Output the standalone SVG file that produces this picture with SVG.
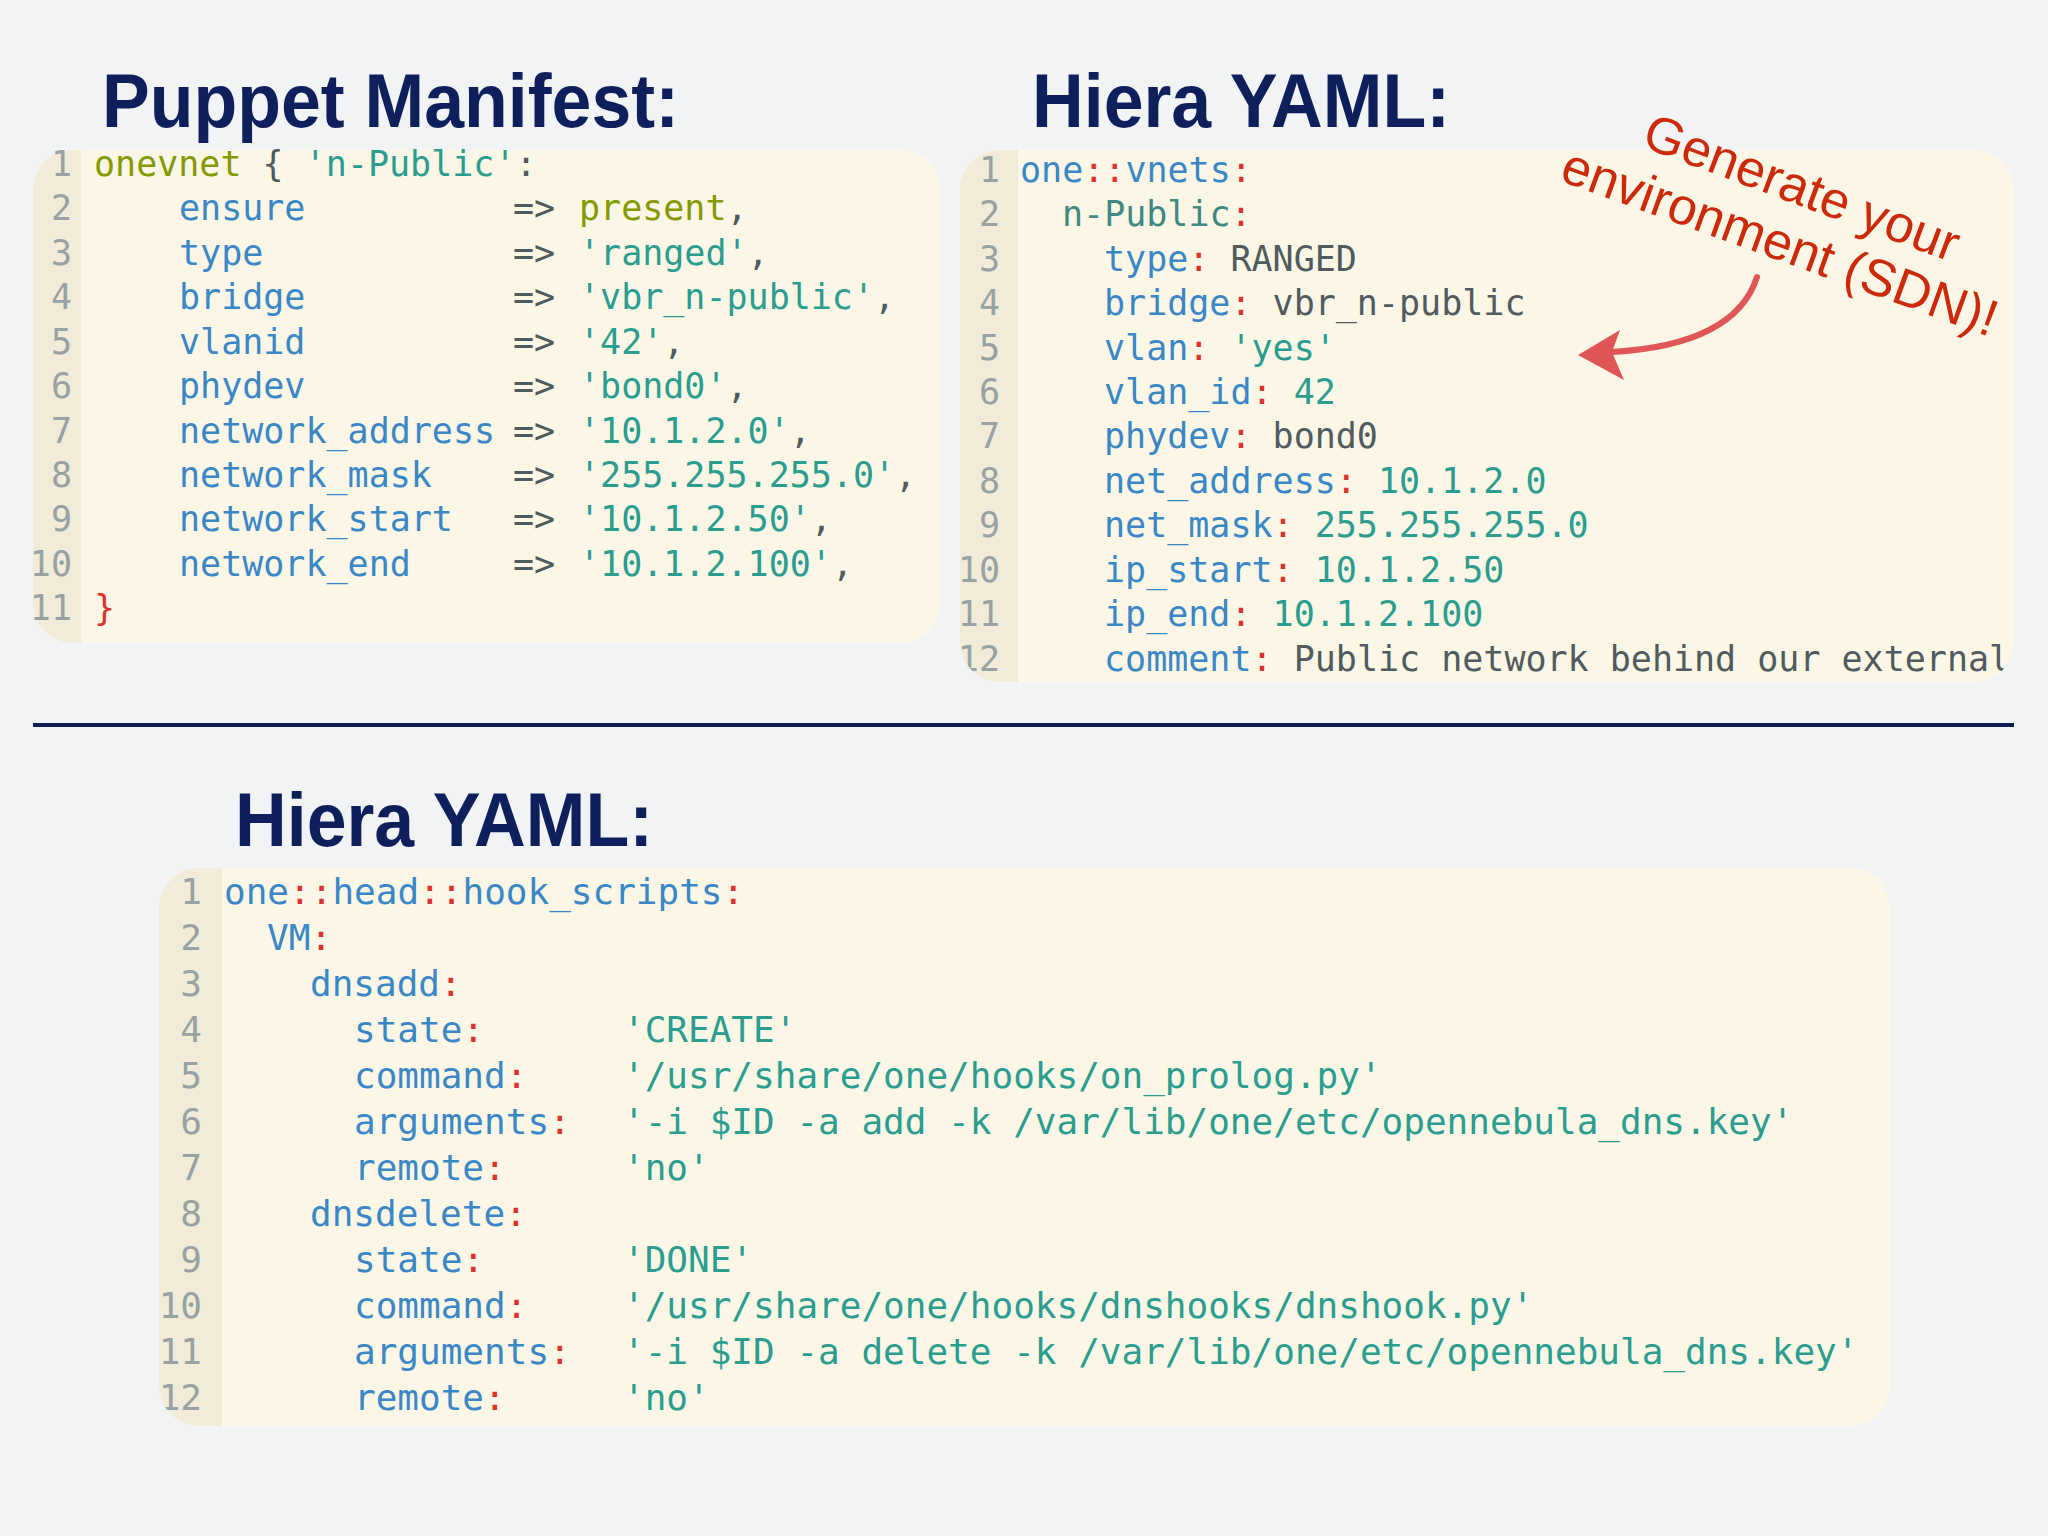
<svg xmlns="http://www.w3.org/2000/svg" width="2048" height="1536" viewBox="0 0 2048 1536">
<style>
.t{font-family:"Liberation Sans",Arial,sans-serif;font-weight:bold;font-size:76px;fill:#0f1f5c}
.c{font-family:"DejaVu Sans Mono","Liberation Mono",monospace;font-size:35px}
.n{fill:#98a2a2;text-anchor:end}
.k{fill:#3a87c6}.v{fill:#2a9d8f}.o{fill:#859900}.r{fill:#dc322f}.p{fill:#4f5b5e}
.red{font-family:"Liberation Sans",Arial,sans-serif;font-size:52px;fill:#cc2a0a}
</style>
<defs><clipPath id="cr"><rect x="960" y="150" width="1054" height="532" rx="40"/></clipPath>
<clipPath id="cb"><rect x="159" y="868" width="1731" height="558" rx="40"/></clipPath></defs>
<rect width="2048" height="1536" fill="#f2f3f5"/>
<g id="titles">
<text class="t" x="102" y="127" textLength="577" lengthAdjust="spacingAndGlyphs">Puppet Manifest:</text>
<text class="t" x="1032" y="127" textLength="418" lengthAdjust="spacingAndGlyphs">Hiera YAML:</text>
<text class="t" x="235" y="846" textLength="418" lengthAdjust="spacingAndGlyphs">Hiera YAML:</text>
</g>
<g id="puppet">
<rect x="33" y="150" width="907" height="493" rx="40" fill="#fcf6e6"/>
<path d="M73,150 H81 V643 H73 A40,40 0 0 1 33,603 V190 A40,40 0 0 1 73,150Z" fill="#f1ecda"/>
<g class="c">
<text class="n" x="72" y="176">1</text><text class="n" x="72" y="220">2</text><text class="n" x="72" y="265">3</text><text class="n" x="72" y="309">4</text><text class="n" x="72" y="354">5</text><text class="n" x="72" y="398">6</text><text class="n" x="72" y="443">7</text><text class="n" x="72" y="487">8</text><text class="n" x="72" y="531">9</text><text class="n" x="72" y="576">10</text><text class="n" x="72" y="620">11</text>
<text x="94" y="176" xml:space="preserve"><tspan class="o">onevnet</tspan><tspan class="p"> { </tspan><tspan class="v">'n-Public'</tspan><tspan class="p">:</tspan></text>
<text y="220"><tspan x="179" class="k">ensure</tspan><tspan x="513" class="p">=&gt;</tspan><tspan x="579" class="o">present</tspan><tspan class="p">,</tspan></text>
<text y="265"><tspan x="179" class="k">type</tspan><tspan x="513" class="p">=&gt;</tspan><tspan x="579" class="v">'ranged'</tspan><tspan class="p">,</tspan></text>
<text y="309"><tspan x="179" class="k">bridge</tspan><tspan x="513" class="p">=&gt;</tspan><tspan x="579" class="v">'vbr_n-public'</tspan><tspan class="p">,</tspan></text>
<text y="354"><tspan x="179" class="k">vlanid</tspan><tspan x="513" class="p">=&gt;</tspan><tspan x="579" class="v">'42'</tspan><tspan class="p">,</tspan></text>
<text y="398"><tspan x="179" class="k">phydev</tspan><tspan x="513" class="p">=&gt;</tspan><tspan x="579" class="v">'bond0'</tspan><tspan class="p">,</tspan></text>
<text y="443"><tspan x="179" class="k">network_address</tspan><tspan x="513" class="p">=&gt;</tspan><tspan x="579" class="v">'10.1.2.0'</tspan><tspan class="p">,</tspan></text>
<text y="487"><tspan x="179" class="k">network_mask</tspan><tspan x="513" class="p">=&gt;</tspan><tspan x="579" class="v">'255.255.255.0'</tspan><tspan class="p">,</tspan></text>
<text y="531"><tspan x="179" class="k">network_start</tspan><tspan x="513" class="p">=&gt;</tspan><tspan x="579" class="v">'10.1.2.50'</tspan><tspan class="p">,</tspan></text>
<text y="576"><tspan x="179" class="k">network_end</tspan><tspan x="513" class="p">=&gt;</tspan><tspan x="579" class="v">'10.1.2.100'</tspan><tspan class="p">,</tspan></text>
<text x="94" y="620" class="r">}</text>
</g>
</g>
<g id="vnets">
<g clip-path="url(#cr)">
<rect x="960" y="150" width="1054" height="532" fill="#fcf6e6"/>
<rect x="960" y="150" width="58" height="532" fill="#f1ecda"/>
<g class="c" xml:space="preserve">
<text class="n" x="1000" y="182">1</text><text class="n" x="1000" y="226">2</text><text class="n" x="1000" y="271">3</text><text class="n" x="1000" y="315">4</text><text class="n" x="1000" y="360">5</text><text class="n" x="1000" y="404">6</text><text class="n" x="1000" y="448">7</text><text class="n" x="1000" y="493">8</text><text class="n" x="1000" y="537">9</text><text class="n" x="1000" y="582">10</text><text class="n" x="1000" y="626">11</text><text class="n" x="1000" y="671">12</text>
<text x="1020" y="182"><tspan class="k">one</tspan><tspan class="r">::</tspan><tspan class="k">vnets</tspan><tspan class="r">:</tspan></text>
<text x="1062" y="226"><tspan class="v" style="fill:#3f8a80">n-Public</tspan><tspan class="r">:</tspan></text>
<text x="1104" y="271"><tspan class="k">type</tspan><tspan class="r">:</tspan><tspan class="p"> RANGED</tspan></text>
<text x="1104" y="315"><tspan class="k">bridge</tspan><tspan class="r">:</tspan><tspan class="p"> vbr_n-public</tspan></text>
<text x="1104" y="360"><tspan class="k">vlan</tspan><tspan class="r">:</tspan><tspan class="v"> 'yes'</tspan></text>
<text x="1104" y="404"><tspan class="k">vlan_id</tspan><tspan class="r">:</tspan><tspan class="v"> 42</tspan></text>
<text x="1104" y="448"><tspan class="k">phydev</tspan><tspan class="r">:</tspan><tspan class="p"> bond0</tspan></text>
<text x="1104" y="493"><tspan class="k">net_address</tspan><tspan class="r">:</tspan><tspan class="v"> 10.1.2.0</tspan></text>
<text x="1104" y="537"><tspan class="k">net_mask</tspan><tspan class="r">:</tspan><tspan class="v"> 255.255.255.0</tspan></text>
<text x="1104" y="582"><tspan class="k">ip_start</tspan><tspan class="r">:</tspan><tspan class="v"> 10.1.2.50</tspan></text>
<text x="1104" y="626"><tspan class="k">ip_end</tspan><tspan class="r">:</tspan><tspan class="v"> 10.1.2.100</tspan></text>
<text x="1104" y="671"><tspan class="k">comment</tspan><tspan class="r">:</tspan><tspan class="p"> Public network behind our external</tspan></text>
</g>
</g>
</g>
<line x1="33" y1="725" x2="2014" y2="725" stroke="#0d1f4f" stroke-width="4"/>
<g id="hooks">
<g clip-path="url(#cb)">
<rect x="159" y="868" width="1731" height="558" fill="#fcf6e6"/>
<rect x="159" y="868" width="63" height="558" fill="#f1ecda"/>
<g class="c" style="font-size:36px">
<text class="n" x="202" y="904">1</text><text class="n" x="202" y="950">2</text><text class="n" x="202" y="996">3</text><text class="n" x="202" y="1042">4</text><text class="n" x="202" y="1088">5</text><text class="n" x="202" y="1134">6</text><text class="n" x="202" y="1180">7</text><text class="n" x="202" y="1226">8</text><text class="n" x="202" y="1272">9</text><text class="n" x="202" y="1318">10</text><text class="n" x="202" y="1364">11</text><text class="n" x="202" y="1410">12</text>
<text x="224" y="904"><tspan class="k">one</tspan><tspan class="r">::</tspan><tspan class="k">head</tspan><tspan class="r">::</tspan><tspan class="k">hook_scripts</tspan><tspan class="r">:</tspan></text>
<text x="267" y="950"><tspan class="k">VM</tspan><tspan class="r">:</tspan></text>
<text x="310" y="996"><tspan class="k">dnsadd</tspan><tspan class="r">:</tspan></text>
<text y="1042"><tspan x="354" class="k">state</tspan><tspan class="r">:</tspan><tspan x="623" class="v">'CREATE'</tspan></text>
<text y="1088"><tspan x="354" class="k">command</tspan><tspan class="r">:</tspan><tspan x="623" class="v">'/usr/share/one/hooks/on_prolog.py'</tspan></text>
<text y="1134" xml:space="preserve"><tspan x="354" class="k">arguments</tspan><tspan class="r">:</tspan><tspan x="623" class="v">'-i $ID -a add -k /var/lib/one/etc/opennebula_dns.key'</tspan></text>
<text y="1180"><tspan x="354" class="k">remote</tspan><tspan class="r">:</tspan><tspan x="623" class="v">'no'</tspan></text>
<text x="310" y="1226"><tspan class="k">dnsdelete</tspan><tspan class="r">:</tspan></text>
<text y="1272"><tspan x="354" class="k">state</tspan><tspan class="r">:</tspan><tspan x="623" class="v">'DONE'</tspan></text>
<text y="1318"><tspan x="354" class="k">command</tspan><tspan class="r">:</tspan><tspan x="623" class="v">'/usr/share/one/hooks/dnshooks/dnshook.py'</tspan></text>
<text y="1364" xml:space="preserve"><tspan x="354" class="k">arguments</tspan><tspan class="r">:</tspan><tspan x="623" class="v">'-i $ID -a delete -k /var/lib/one/etc/opennebula_dns.key'</tspan></text>
<text y="1410"><tspan x="354" class="k">remote</tspan><tspan class="r">:</tspan><tspan x="623" class="v">'no'</tspan></text>
</g>
</g>
</g>
<g id="annotation">
<text class="red" transform="translate(1640,146) rotate(20.5)">Generate your</text>
<text class="red" transform="translate(1558,180) rotate(20)">environment (SDN)!</text>
<path d="M1757,277 Q1735,345 1612,352" fill="none" stroke="#e05555" stroke-width="6" stroke-linecap="round"/>
<polygon points="1578,355 1620,330 1612,352 1624,380" fill="#e05555"/>
</g>
</svg>
